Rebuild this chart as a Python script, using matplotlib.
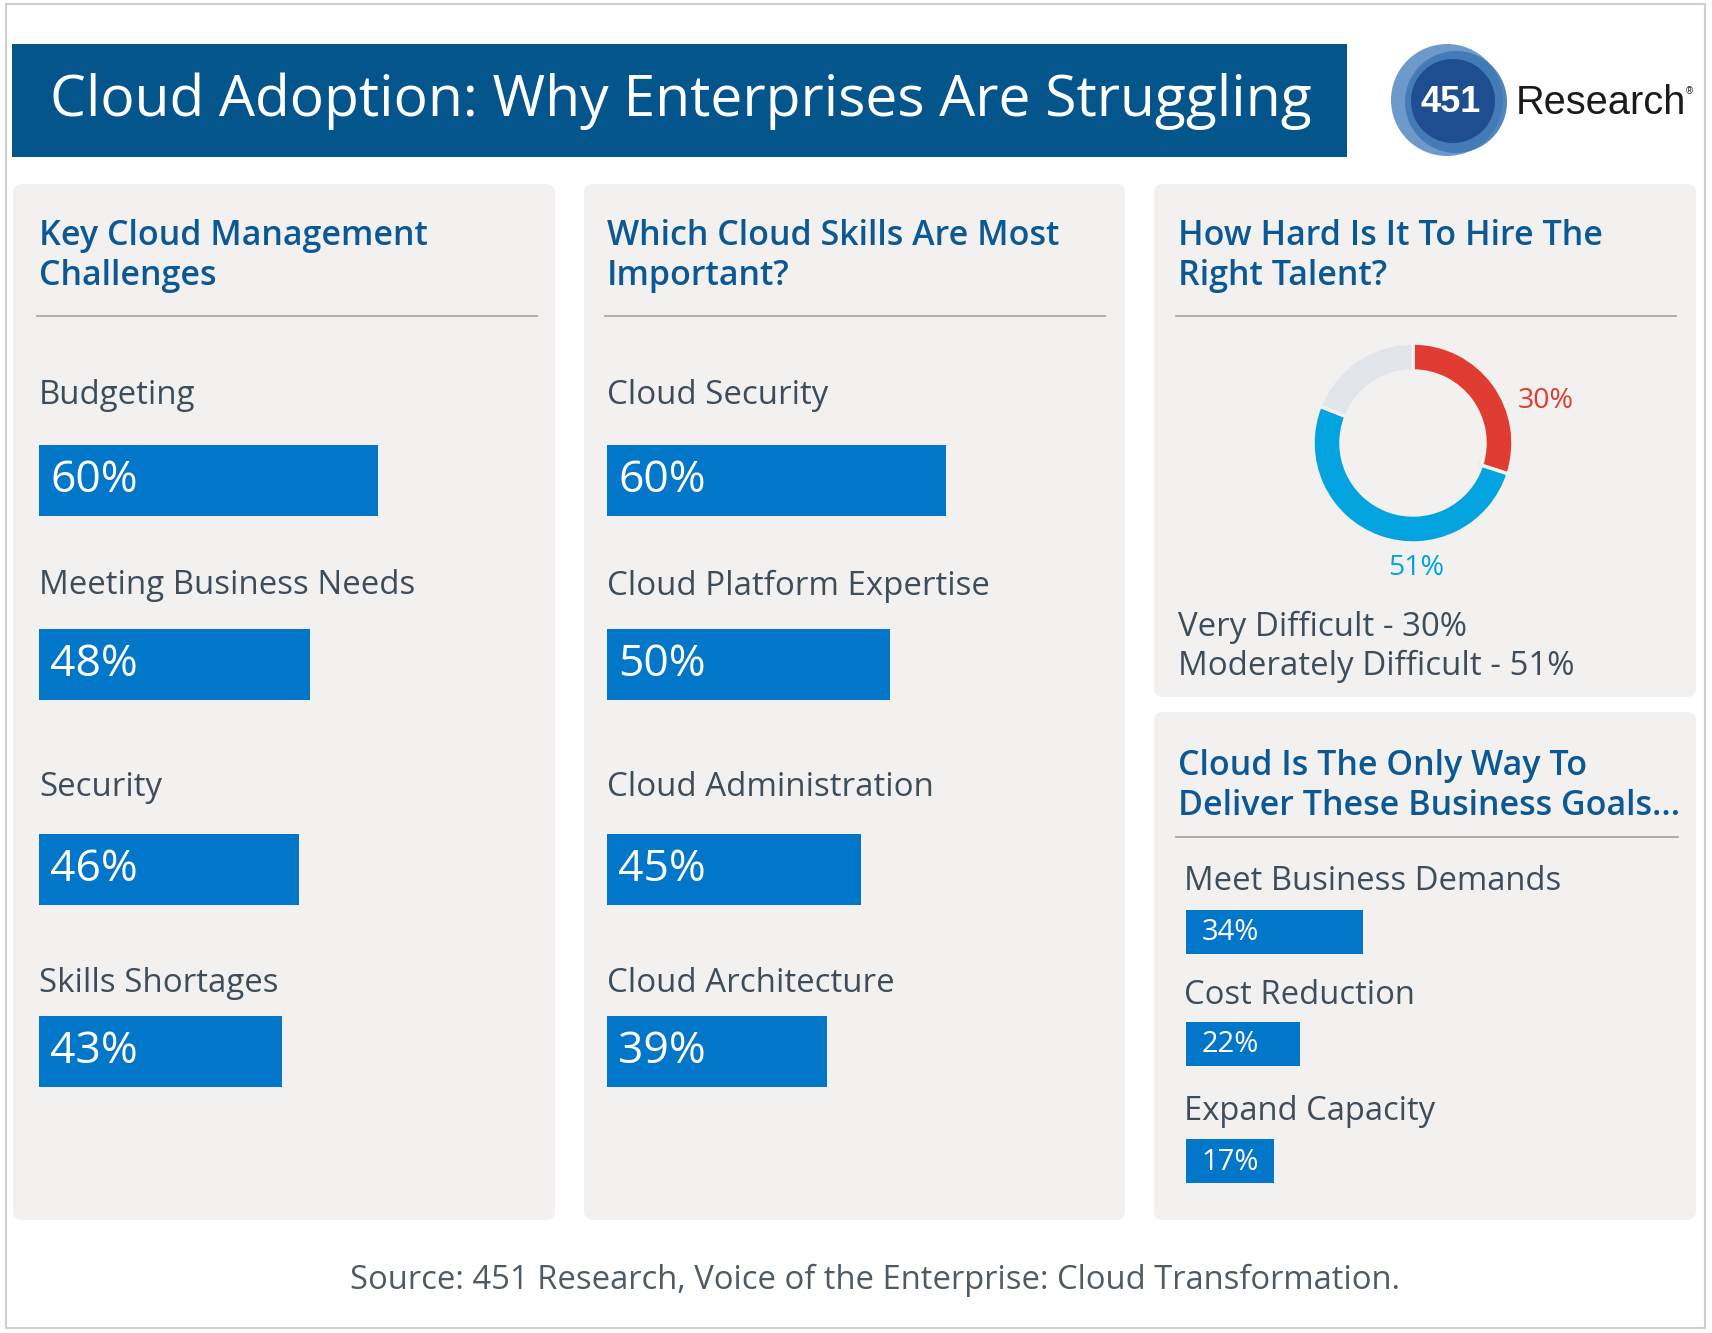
import matplotlib
matplotlib.use("Agg")
import matplotlib.pyplot as plt
from matplotlib.patches import FancyBboxPatch, Rectangle, Circle

plt.rcParams['font.family'] = ['Open Sans', 'DejaVu Sans']

# ---- data ----
title = "Cloud Adoption: Why Enterprises Are Struggling"
source = "Source: 451 Research, Voice of the Enterprise: Cloud Transformation."

challenge_title = "Key Cloud Management\nChallenges"
challenge_labels = ["Budgeting", "Meeting Business Needs", "Security", "Skills Shortages"]
challenge_values = [60, 48, 46, 43]

skills_title = "Which Cloud Skills Are Most\nImportant?"
skills_labels = ["Cloud Security", "Cloud Platform Expertise", "Cloud Administration", "Cloud Architecture"]
skills_values = [60, 50, 45, 39]

hire_title = "How Hard Is It To Hire The\nRight Talent?"
hire_labels = ["Very Difficult", "Moderately Difficult", "Other"]
hire_values = [30, 51, 19]

goals_title = "Cloud Is The Only Way To\nDeliver These Business Goals..."
goals_labels = ["Meet Business Demands", "Cost Reduction", "Expand Capacity"]
goals_values = [34, 22, 17]

# ---- style ----
W, H = 1712, 1333
banner_col = "#03558C"
panel_col = "#F2F1F0"
head_col = "#0B5894"
label_col = "#3E4D5C"
bar_col = "#0276C8"
red = "#E03C31"
cyan = "#02A3DF"
grey_seg = "#E1E5EA"
LW = 500  # text weight for labels

fig = plt.figure(figsize=(W / 100, H / 100), dpi=100)
bg = fig.add_axes([0, 0, 1, 1])
bg.set_xlim(0, W)
bg.set_ylim(H, 0)
bg.set_axis_off()


def px_axes(x0, y0, w, h):
    # axes placed with pixel coordinates (top-left origin)
    return fig.add_axes([x0 / W, 1 - (y0 + h) / H, w / W, h / H])


# outer frame
bg.add_patch(Rectangle((6, 4), 1699, 1324, fill=False, ec="#CFCFCF", lw=1.5))

# banner
bg.add_patch(Rectangle((12, 44), 1335, 113, fc=banner_col, ec="none"))
bg.text(50, 101, title, color="white", fontsize=41, fontweight=LW, va="center", ha="left")

# logo
bg.add_patch(Circle((1447, 100), 56, fc="#6E9ACB", ec="none"))
bg.add_patch(Circle((1456, 102), 51, fc="#3F78B5", ec="none", alpha=0.9))
bg.add_patch(Circle((1453, 101), 42, fc="#1F4E90", ec="none"))
bg.text(1451, 103, "451", color="white", fontsize=26, fontweight="bold",
        family=["Liberation Sans"], ha="center", va="center")
bg.text(1516, 103, "Research", color="#1A1A1A", fontsize=28.6,
        family=["Liberation Sans"], ha="left", va="center")
bg.text(1686, 91, "®", color="#1A1A1A", fontsize=7, family=["Liberation Sans"], ha="left", va="center")

# panels
panels = [(13, 184, 542, 1036), (584, 184, 541, 1036), (1154, 184, 542, 513), (1154, 712, 542, 508)]
for x0, y0, w, h in panels:
    bg.add_patch(FancyBboxPatch((x0, y0), w, h, boxstyle="round,pad=0,rounding_size=9",
                                fc=panel_col, ec="none"))


def header(x, y, text, line_x0, line_x1, line_y):
    bg.text(x, y, text, color=head_col, fontsize=24.5, fontweight="semibold",
            ha="left", va="top", linespacing=1.22)
    bg.plot([line_x0, line_x1], [line_y, line_y], color="#A8A8A8", lw=1.3)


header(39, 219, challenge_title, 37, 537, 316)
header(607, 219, skills_title, 605, 1105, 316)
header(1178, 219, hire_title, 1176, 1676, 316)
header(1178, 749, goals_title, 1176, 1678, 837)

# big bar panels
row_label_y = [396, 586, 788, 983]
row_bar_y = [480, 664, 869, 1051]
scale = 5.65  # px per percent


def bar_panel(x0, labels, values):
    ax = px_axes(x0, 184, 100 * scale, 1036)
    ax.set_xlim(0, 100)
    ax.set_ylim(184 + 1036, 184)
    ax.set_axis_off()
    ax.barh(row_bar_y, values, height=71, color=bar_col)
    for lab, v, ly, by in zip(labels, values, row_label_y, row_bar_y):
        ax.text(0, ly, lab, color=label_col, fontsize=23.8, fontweight=LW, ha="left", va="center")
        ax.text(2, by + 1, f"{v}%", color="white", fontsize=32, fontweight=LW, ha="left", va="center")


bar_panel(39, challenge_labels, challenge_values)
bar_panel(607, skills_labels, skills_values)

# donut
dax = px_axes(1413 - 100, 443 - 100, 200, 200)
dax.pie(hire_values, colors=[red, cyan, grey_seg], startangle=90, counterclock=False,
        radius=1.0, wedgeprops=dict(width=0.28, edgecolor=panel_col, linewidth=2.5))
dax.set_aspect("equal")
dax.set_xlim(-1, 1)
dax.set_ylim(-1, 1)
bg.text(1518, 401, f"{hire_values[0]}%", color=red, fontsize=20.5, fontweight=LW, ha="left", va="center")
bg.text(1416, 568, f"{hire_values[1]}%", color=cyan, fontsize=20.5, fontweight=LW, ha="center", va="center")
bg.text(1178, 627, f"{hire_labels[0]} - {hire_values[0]}%", color=label_col, fontsize=23.8,
        fontweight=LW, ha="left", va="center")
bg.text(1178, 666, f"{hire_labels[1]} - {hire_values[1]}%", color=label_col, fontsize=23.8,
        fontweight=LW, ha="left", va="center")

# goals bars
g_label_y = [881, 996, 1111]
g_bar_y = [932, 1044, 1161]
gscale = 5.2
gax = px_axes(1186, 712, 100 * gscale, 508)
gax.set_xlim(0, 100)
gax.set_ylim(712 + 508, 712)
gax.set_axis_off()
gax.barh(g_bar_y, goals_values, height=44, color=bar_col)
for lab, v, ly, by in zip(goals_labels, goals_values, g_label_y, g_bar_y):
    gax.text(-0.4, ly, lab, color=label_col, fontsize=23.6, fontweight=LW, ha="left", va="center")
    gax.text(3, by + 1, f"{v}%", color="white", fontsize=21, fontweight=LW, ha="left", va="center")

# source
bg.text(875, 1280, source, color="#505A64", fontsize=23.6, fontweight=LW, ha="center", va="center")

fig.savefig("out.png", dpi=100)
